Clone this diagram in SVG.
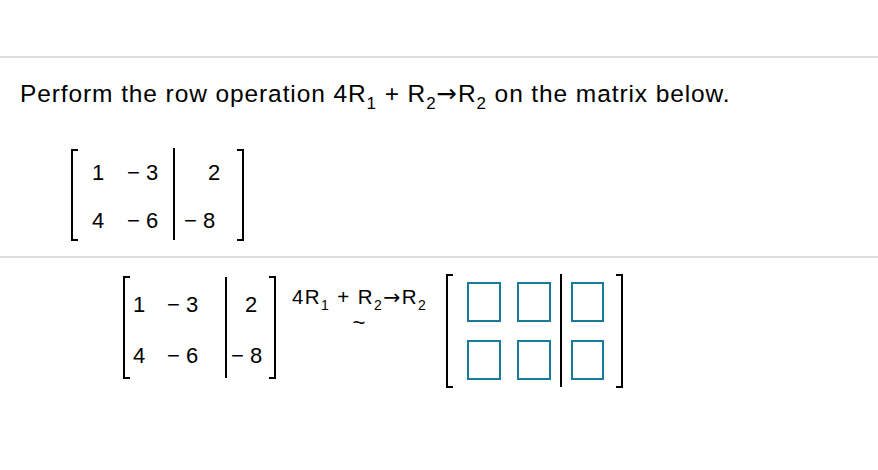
<svg xmlns="http://www.w3.org/2000/svg" width="878" height="470" viewBox="0 0 878 470">
<style>
text{font-family:"Liberation Sans",Arial,sans-serif;fill:#000}
.m{font-size:22px}
.ar{font-family:"DejaVu Sans",sans-serif}
.br{fill:none;stroke:#000;stroke-width:2}
.bx{fill:#fff;stroke:#1a7a9a;stroke-width:2}
.hr{stroke:#d0d0d0;stroke-width:1.5}
</style>
<rect width="878" height="470" fill="#fff"/>
<line class="hr" x1="0" y1="57" x2="878" y2="57"/>
<line class="hr" x1="0" y1="257" x2="878" y2="257"/>
<text x="20" y="102" font-size="24.5" letter-spacing="0.9">Perform the row operation 4R<tspan font-size="17" dy="7">1</tspan><tspan dy="-7"> + R</tspan><tspan font-size="17" dy="7">2</tspan><tspan dy="-7" class="ar">→</tspan><tspan dy="0">R</tspan><tspan font-size="17" dy="7">2</tspan><tspan dy="-7"> on the matrix below.</tspan></text>
<g id="matrix1">
<path class="br" d="M78,150 H72 V240 H78 M237,150 H243 V240 H237"/>
<line x1="174" y1="148" x2="174" y2="240" stroke="#000" stroke-width="2"/>
<text class="m" x="92" y="180">1</text>
<text class="m" x="127" y="180">− 3</text>
<text class="m" x="208" y="180">2</text>
<text class="m" x="92" y="228">4</text>
<text class="m" x="127" y="228">− 6</text>
<text class="m" x="184" y="228">− 8</text>
</g>
<g id="matrix2">
<path class="br" d="M130,277 H124 V378 H130 M269,277 H275 V378 H269"/>
<line x1="226" y1="277" x2="226" y2="378" stroke="#000" stroke-width="2"/>
<text class="m" x="133" y="312">1</text>
<text class="m" x="167" y="312">− 3</text>
<text class="m" x="245" y="312">2</text>
<text class="m" x="133" y="363">4</text>
<text class="m" x="167" y="363">− 6</text>
<text class="m" x="231" y="363">− 8</text>
</g>
<g id="op">
<text x="292" y="304" font-size="20.5" letter-spacing="1.4">4R<tspan font-size="14" dy="6">1</tspan><tspan dy="-6"> + R</tspan><tspan font-size="14" dy="6">2</tspan><tspan dy="-6" class="ar">→</tspan><tspan>R</tspan><tspan font-size="14" dy="6">2</tspan></text>
<text x="359" y="330" font-size="22" text-anchor="middle">~</text>
</g>
<g id="matrix3">
<path class="br" d="M453,275 H447 V387 H453 M616,275 H622 V387 H616"/>
<line x1="561" y1="274" x2="561" y2="387" stroke="#000" stroke-width="2"/>
<rect class="bx" x="468" y="283" width="32" height="38"/>
<rect class="bx" x="518" y="283" width="32" height="38"/>
<rect class="bx" x="572" y="283" width="31" height="38"/>
<rect class="bx" x="468" y="341" width="32" height="38"/>
<rect class="bx" x="518" y="341" width="32" height="38"/>
<rect class="bx" x="572" y="341" width="31" height="38"/>
</g>
</svg>
